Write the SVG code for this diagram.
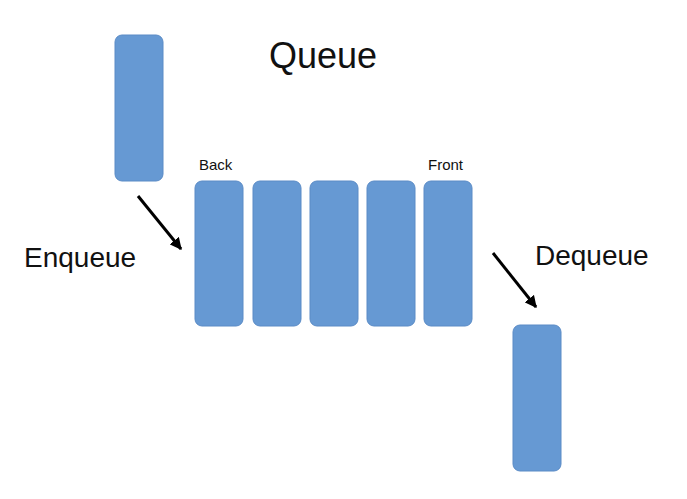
<svg xmlns="http://www.w3.org/2000/svg" width="687" height="499" viewBox="0 0 687 499">
<style>
.b{fill:#6699d3;stroke:#5a8bc6;stroke-width:1}
text{font-family:"Liberation Sans",Arial,sans-serif;fill:#111}
.a{stroke:#000;stroke-width:3;fill:none}
</style>
<defs><marker id="h" viewBox="0 0 10 10" refX="9" refY="5" markerWidth="4" markerHeight="4" orient="auto" markerUnits="strokeWidth"><path d="M0 0L10 5L0 10z" fill="#000"/></marker></defs>
<rect width="687" height="499" fill="#fff"/>
<text x="323" y="68" font-size="36" text-anchor="middle">Queue</text>
<g id="incoming"><rect class="b" x="115" y="35" width="48" height="146" rx="7"/></g>
<g id="q1"><rect class="b" x="195" y="181" width="48" height="145" rx="7"/><text x="199" y="170" font-size="15">Back</text></g>
<g id="q2"><rect class="b" x="253" y="181" width="48" height="145" rx="7"/></g>
<g id="q3"><rect class="b" x="310" y="181" width="48" height="145" rx="7"/></g>
<g id="q4"><rect class="b" x="367" y="181" width="48" height="145" rx="7"/></g>
<g id="q5"><rect class="b" x="424" y="181" width="48" height="145" rx="7"/><text x="428" y="170" font-size="15">Front</text></g>
<g id="outgoing"><rect class="b" x="513" y="325" width="48" height="146" rx="7"/></g>
<g id="connectors">
<line class="a" x1="138" y1="196" x2="181" y2="249" marker-end="url(#h)"/>
<line class="a" x1="493" y1="253" x2="536" y2="307" marker-end="url(#h)"/>
</g>
<text x="24" y="267" font-size="28">Enqueue</text>
<text x="535" y="265" font-size="28">Dequeue</text>
</svg>
